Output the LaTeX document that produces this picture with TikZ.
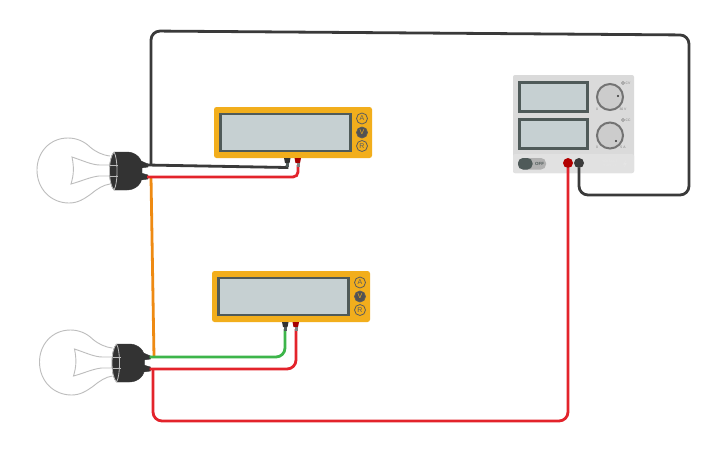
\documentclass[tikz,border=0pt]{standalone}
\usepackage{fontspec}
\setmainfont{Liberation Sans}
\usepackage{tikz}
\usetikzlibrary{positioning, calc}

\definecolor{meterbody}{HTML}{F2AE1C}
\definecolor{screenfill}{HTML}{C6D0D2}
\definecolor{screenline}{HTML}{4F5A59}
\definecolor{socketfill}{HTML}{333333}
\definecolor{glassline}{HTML}{BDBDBD}
\definecolor{wireblack}{HTML}{3A3A3A}
\definecolor{wirered}{HTML}{E3232B}
\definecolor{wiregreen}{HTML}{3DB54A}
\definecolor{wireorange}{HTML}{EE8A12}
\definecolor{supplybody}{HTML}{DADADA}
\definecolor{supplyfoot}{HTML}{E1E1E1}

\tikzset{
    wire/.style={line width=2.8pt, rounded corners=9pt},
    screen/.style={draw=screenline, fill=screenfill, line width=2.6pt},
    modeknob/.style={circle, draw=socketfill!80, line width=0.8pt, minimum size=11pt, inner sep=0pt, font=\fontsize{7}{7}\selectfont, text=socketfill!80},
    tinytext/.style={inner sep=0pt, font=\fontsize{3.4}{3.6}\selectfont, text=gray, align=center},
    dial/.style={circle, draw=gray!90!black, fill=supplybody!85!gray, line width=2pt, minimum size=26pt, inner sep=0pt},
    post/.style={circle, minimum size=10pt, inner sep=0pt}
}

\def\tikbulb#1{%
    % glass
    \draw[glassline, line width=0.9pt, fill=white]
        (110,156) .. controls (102,155) and (96,152) .. (90,147)
        .. controls (84,141) and (76,138) .. (68,138)
        .. controls (50,138) and (37,152) .. (37,170)
        .. controls (37,189) and (51,203) .. (69,203)
        .. controls (78,203) and (84,199) .. (91,194)
        .. controls (97,189) and (103,185) .. (110,184);
    % filament
    \draw[glassline, line width=0.9pt]
        (112,165) -- (100,165) .. controls (92,165) and (84,161) .. (72,157)
        .. controls (74,167) and (74,174) .. (71,184)
        .. controls (82,181) and (90,177) .. (99,176) -- (112,176);
    % socket
    \draw[socketfill, fill=socketfill]
        (114,152) -- (127,152) .. controls (136,152) and (142,159) .. (142,165)
        -- (142,177) .. controls (142,183) and (136,190) .. (127,190) -- (114,190)
        .. controls (108,184) and (108,158) .. (114,152) -- cycle;
    \draw[socketfill, fill=socketfill] (141,161) -- (148,164) -- (148,167) -- (141,168) -- cycle;
    \draw[socketfill, fill=socketfill] (141,173) -- (148,175) -- (148,179) -- (141,180) -- cycle;
    \draw[glassline, line width=0.8pt] (114,152) .. controls (118,158) and (118,184) .. (114,190);
    \draw[glassline, line width=0.8pt] (114,152) .. controls (108,158) and (108,184) .. (114,190);
    \draw[glassline, line width=0.8pt] (110,165) -- (118,165) (110,176) -- (118,176);
    \coordinate (#1a) at (147,165);
    \coordinate (#1b) at (147,177);
}

\def\tikmeter#1{%
    \node[fill=meterbody, rounded corners=2.5pt, minimum width=158pt, minimum height=51pt, inner sep=0pt] (#1) at (293,132.5) {};
    \node[screen, minimum width=130pt, minimum height=37pt, inner sep=0pt] (#1screen) at (285.5,132.5) {};
    \node[modeknob] (#1A) at (362,118.5) {A};
    \node[modeknob, fill=socketfill!85, text=meterbody] (#1V) at (362,132.5) {V};
    \node[modeknob] (#1R) at (362,146) {R};
    \coordinate (#1neg) at (287,165);
    \coordinate (#1pos) at (298,165);
}

% probe tips, drawn over the wire ends
\def\tikprobes{%
    \fill[socketfill] (284,158) -- (290.5,158) -- (289.5,163) -- (285,163) -- cycle;
    \fill[screenline] (285.5,163) rectangle (288.5,167);
    \fill[red!65!black] (294.5,158) -- (301,158) -- (300,163) -- (295.5,163) -- cycle;
    \fill[gray] (296.5,163) rectangle (299.5,167);
}

\begin{document}
\begin{tikzpicture}[x=1pt, y=-1pt]
    \useasboundingbox (0,0) rectangle (725,453);
    \fill[white] (0,0) rectangle (725,453);

    % upper meter and lamp
    \tikbulb{lampone}
    \tikmeter{meterone}

    % lower meter and lamp
    \begin{scope}[shift={(2.5,192)}]
        \tikbulb{lamptwo}
    \end{scope}
    \begin{scope}[shift={(-2,164)}]
        \tikmeter{metertwo}
    \end{scope}

    % supply
    \node[fill=supplybody, rounded corners=2pt, minimum width=121pt, minimum height=98pt, inner sep=0pt] (supply) at (573.5,124) {};
    \fill[supplyfoot, rounded corners=2pt] (513,154) rectangle (634,173);
    \node[screen, line width=3pt, minimum width=68pt, minimum height=29pt, inner sep=0pt] (voltscreen) at (553.5,97) {};
    \node[screen, line width=3pt, minimum width=68pt, minimum height=29pt, inner sep=0pt] (ampscreen) at (553.5,134) {};
    \node[dial] (voltdial) at (610,97) {};
    \node[dial] (ampdial) at (610,135.5) {};
    \fill[socketfill] (618,96) circle (1.2pt);
    \fill[socketfill] (616,141) circle (1.2pt);
    \node[circle, draw=gray, line width=0.4pt, minimum size=3pt, inner sep=0pt] (voltled) at (623,83) {};
    \node[circle, draw=gray, line width=0.4pt, minimum size=3pt, inner sep=0pt] (ampled) at (623,120) {};
    \node[tinytext, right=0.7pt of voltled] (voltmark) {CV};
    \node[tinytext, right=0.7pt of ampled] (ampmark) {CC};
    \node[tinytext] (voltmin) at (597,109) {0};
    \node[tinytext] (voltmax) at (623,109) {30 V};
    \node[tinytext] (ampmin) at (597,147) {0};
    \node[tinytext] (ampmax) at (623,147) {5 A};

    \fill[gray!45!supplybody, rounded corners=5pt] (518,158) rectangle (546,169.5);
    \fill[screenline, rounded corners=5pt] (518,158) rectangle (532.5,169.5);
    \node[tinytext, text=screenline, font=\fontsize{4.5}{4.5}\selectfont\bfseries] (switchlabel) at (539.5,163.8) {OFF};
    \node[tinytext, text=white!80!gray] (supplylabel) at (610,163.5) {VOLTAGE\\SUPPLY};
    \fill[white!80!gray] (626,160) -- (623,164.5) -- (625,164.5) -- (623.5,168) -- (627,163) -- (625,163) -- cycle;

    \node[post, fill=red!70!black] (supplypos) at (568,163) {};
    \node[post, fill=socketfill!90!gray] (supplyneg) at (579,163) {};

    % corners of the long wires
    \coordinate (blackstart) at (151,165);
    \coordinate (topleft) at (151,31);
    \coordinate (topright) at (689,35);
    \coordinate (backright) at (689,195);
    \coordinate (orangeone) at (151,177);
    \coordinate (orangetwo) at (154,357);
    \coordinate (redstart) at (153,369);
    \coordinate (bottomleft) at (153,421);
    \coordinate (bottomright) at (568,421);
    \coordinate (blackcorner) at (287,167.5);

    % wires
    \draw[wire, wireorange] (orangeone) -- (orangetwo);
    \draw[wire, wireblack] (blackstart) -- (topleft) -- (topright) -- (backright) -- (backright -| supplyneg) -- (supplyneg);
    \draw[wireblack, line width=2.8pt] (lamponea) -- (blackcorner) -- (meteroneneg);
    \draw[wire, wirered, rounded corners=5pt] (lamponeb) -- (meteronepos |- lamponeb) -- (meteronepos);
    \draw[wire, wiregreen] (lamptwoa) -- (metertwoneg |- lamptwoa) -- (metertwoneg);
    \draw[wire, wirered] (lamptwob) -- (metertwopos |- lamptwob) -- (metertwopos);
    \draw[wire, wirered] (redstart) -- (bottomleft) -- (bottomright) -- (supplypos);

    \tikprobes
    \begin{scope}[shift={(-2,164)}]
        \tikprobes
    \end{scope}
\end{tikzpicture}
\end{document}
